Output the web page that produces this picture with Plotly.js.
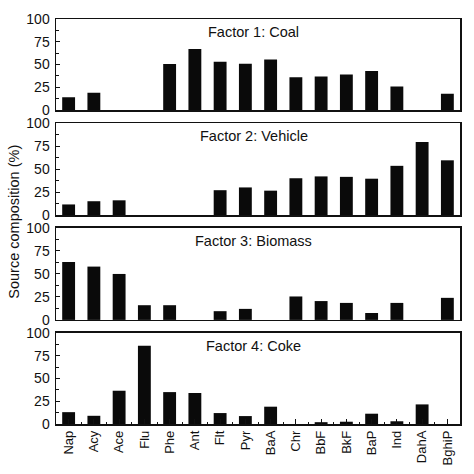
<!DOCTYPE html>
<html>
<head>
<meta charset="utf-8">
<script src="https://cdn.plot.ly/plotly-3.0.1.min.js"></script>
<style>html,body{margin:0;padding:0;background:#fff;}#chart{width:474px;height:474px;}</style>
</head>
<body>
<div id="chart"></div>
<script>
const categories = ["Nap","Acy","Ace","Flu","Phe","Ant","Flt","Pyr","BaA","Chr","BbF","BkF","BaP","Ind","DahA","BghiP"];
const factorNames = ["Factor 1: Coal","Factor 2: Vehicle","Factor 3: Biomass","Factor 4: Coke"];
const coal    = [14, 19, 0, 0, 50.5, 67, 53, 51, 55.5, 36, 37, 39, 43, 26, 0, 18];
const vehicle = [11.5, 15, 16, 0, 0, 0, 27, 30, 26.5, 40, 42, 41.5, 39.5, 53.5, 79.5, 59.5];
const biomass = [63, 58, 50, 16, 16, 0, 9.5, 12, 0, 25.5, 20.5, 18.5, 7.5, 18.5, 0, 24];
const coke    = [13, 9, 36.5, 86, 35, 34, 12, 8.7, 19, 0, 2, 2.5, 11.3, 3, 21.5, 0];
const yTickVals = [0, 25, 50, 75, 100];
const yTitle = "Source composition (%)";

const series = [coal, vehicle, biomass, coke];
const idx = categories.map((c, i) => i);
const domains = [[0.775, 1], [0.516, 0.743], [0.257, 0.484], [0, 0.225]];
const font = {family: "Liberation Sans, Arial, sans-serif", color: "#111"};

const traces = [];
const layout = {
  width: 474, height: 474,
  margin: {l: 56, r: 14, t: 19, b: 50},
  paper_bgcolor: "#fff", plot_bgcolor: "#fff",
  showlegend: false,
  bargap: 0.49,
  font: Object.assign({size: 13}, font),
  annotations: [],
};

series.forEach((vals, k) => {
  const n = k + 1;
  const xs = n === 1 ? "x" : "x" + n;
  const ys = n === 1 ? "y" : "y" + n;
  traces.push({
    type: "bar", x: idx, y: vals, xaxis: xs, yaxis: ys,
    marker: {color: "#0a0a0a", line: {width: 0}},
    hoverinfo: "skip"
  });
  const last = n === 4;
  layout["xaxis" + (n === 1 ? "" : n)] = {
    anchor: ys, domain: [0, 1], range: [-0.5, 15.5],
    showgrid: false, zeroline: false,
    showline: true, mirror: true, linecolor: "#111", linewidth: 1.5,
    tickmode: "array", tickvals: idx, ticktext: categories,
    showticklabels: last, tickangle: -90,
    ticks: last ? "inside" : "", ticklen: 5, tickwidth: 1, tickcolor: "#111",
    minor: last ? {ticks: "inside", ticklen: 2.5, tick0: 0.5, dtick: 1, tickcolor: "#111", tickwidth: 1} : undefined,
    tickfont: {size: 13, family: font.family, color: "#111"},
    layer: "above traces"
  };
  layout["yaxis" + (n === 1 ? "" : n)] = {
    anchor: xs, domain: domains[k], range: [0, 100],
    showgrid: false, zeroline: false,
    showline: true, mirror: true, linecolor: "#111", linewidth: 1.5,
    tickmode: "array", tickvals: yTickVals,
    ticks: "inside", ticklen: 4, tickwidth: 1, tickcolor: "#111",
    minor: {ticks: "inside", ticklen: 2.5, tick0: 12.5, dtick: 25, tickcolor: "#111", tickwidth: 1},
    tickfont: {size: 14, family: font.family, color: "#111"},
    ticklabelstandoff: 2,
  };
  layout.annotations.push({
    text: factorNames[k], xref: "x" + (n === 1 ? "" : n) + " domain", yref: "y" + (n === 1 ? "" : n) + " domain",
    x: 0.49, y: 0.86, xanchor: "center", yanchor: "middle", showarrow: false,
    font: {size: 14.5, family: font.family, color: "#111"}
  });
});

layout.annotations.push({
  text: yTitle, xref: "paper", yref: "paper", x: -0.106, y: 0.5,
  textangle: -90, showarrow: false, xanchor: "center", yanchor: "middle",
  font: {size: 14.5, family: font.family, color: "#111"}
});

Plotly.newPlot("chart", traces, layout, {displayModeBar: false, staticPlot: true});
</script>
</body>
</html>
